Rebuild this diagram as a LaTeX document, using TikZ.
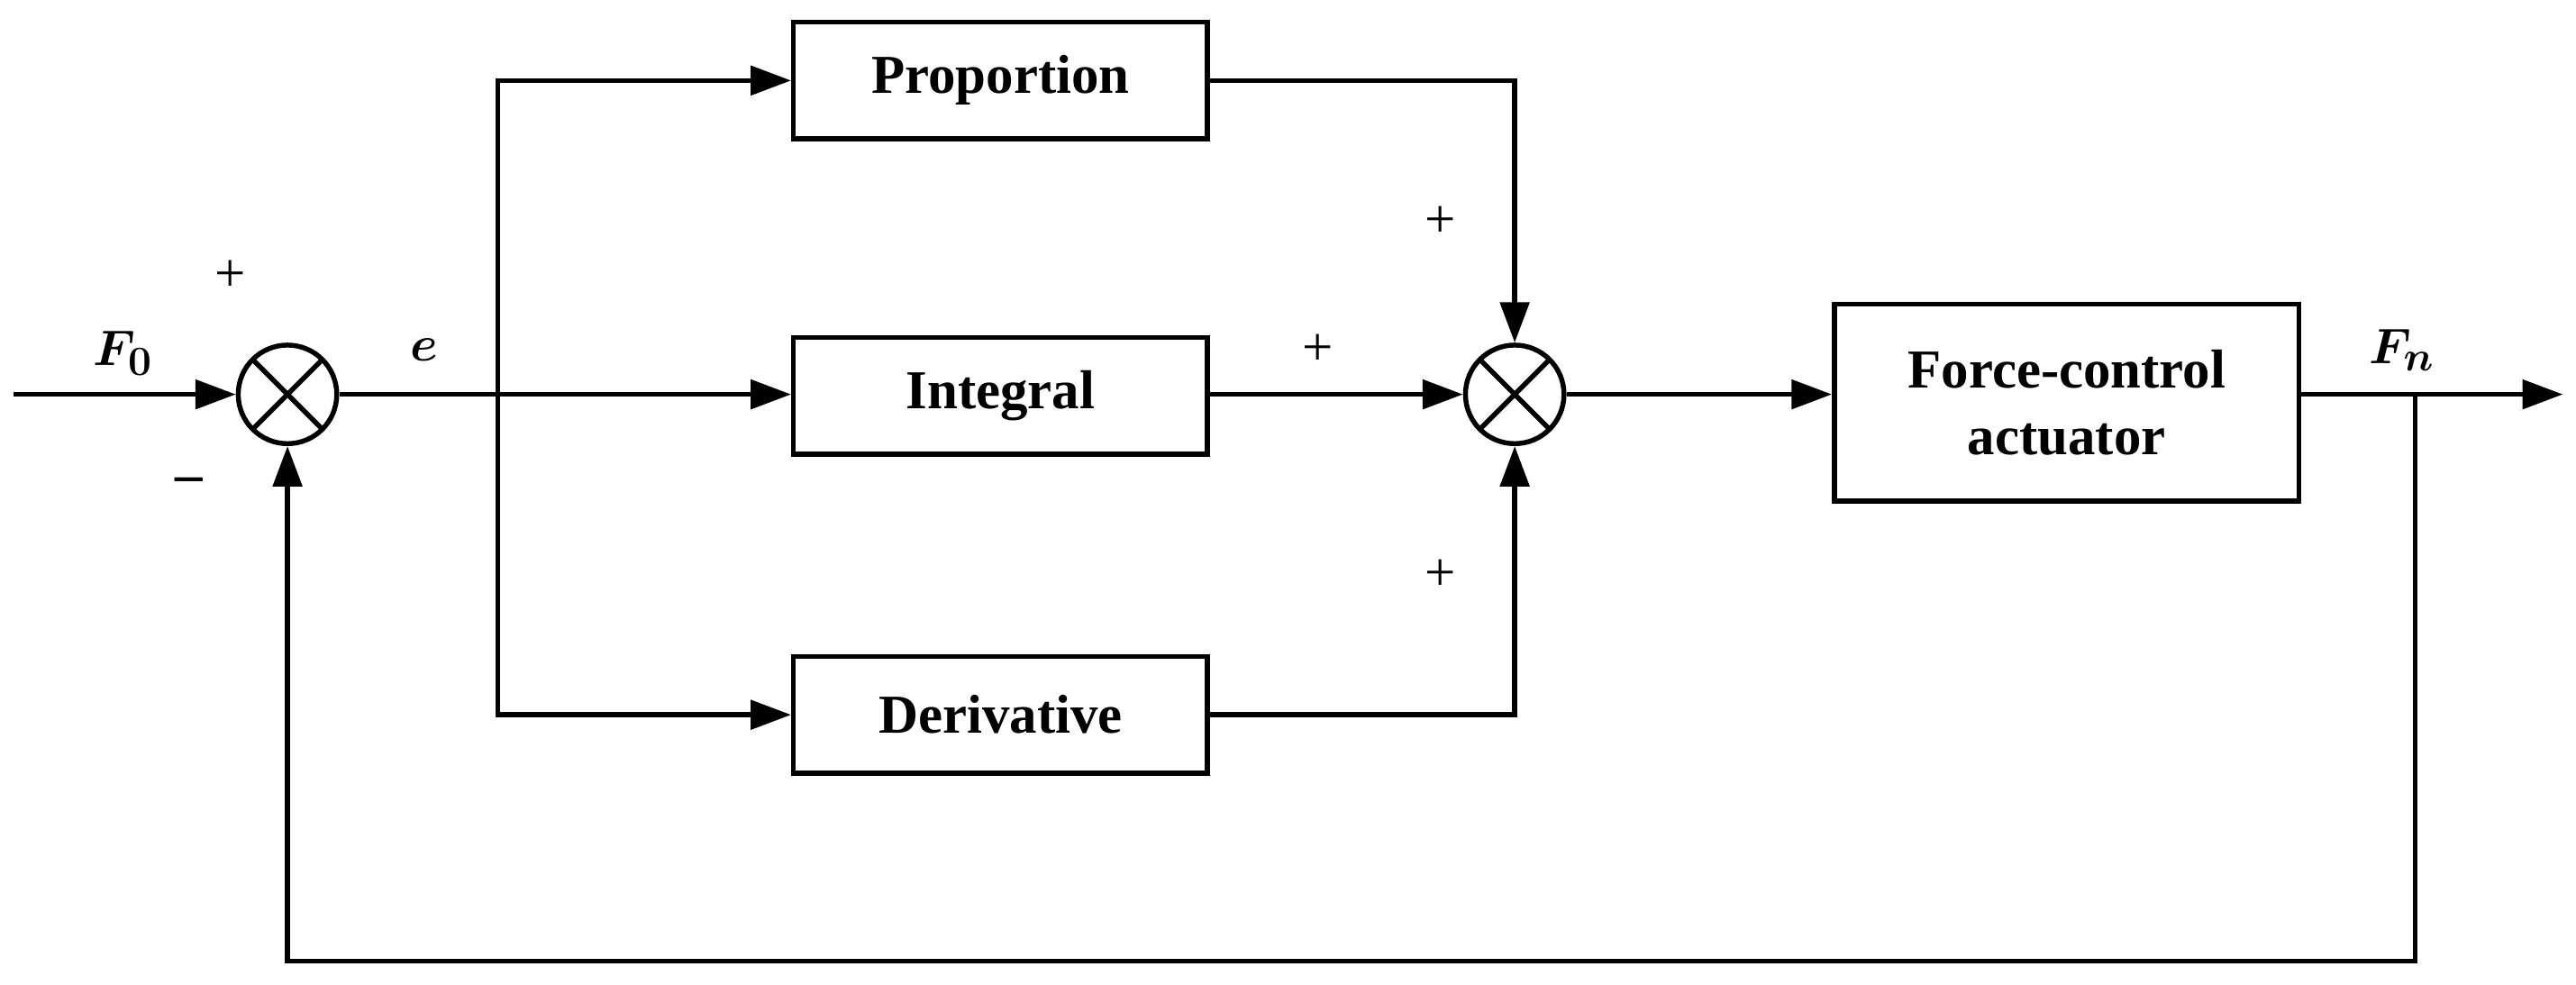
\documentclass[tikz,border=0pt]{standalone}
\usepackage{amsmath,bm}
\usepackage{fontspec}
\setmainfont{Liberation Serif}
\usetikzlibrary{arrows.meta}
\begin{document}
\begin{tikzpicture}[x=0.02cm,y=-0.02cm,line width=1.7pt,
  blk/.style={draw,minimum width=5.04cm,minimum height=1.42cm,font=\fontsize{19}{23}\selectfont\bfseries,align=center},
  sum/.style={draw,circle,minimum size=1.2cm,inner sep=0pt,path picture={\draw[line width=1.7pt] (path picture bounding box.north west)--(path picture bounding box.south east) (path picture bounding box.north east)--(path picture bounding box.south west);}},
  arr/.style={-{Triangle[length=14pt,width=10pt]}},
  lab/.style={font=\fontsize{19}{23}\selectfont}]
\useasboundingbox (0,0) rectangle (1568,599);
\node[sum] (s1) at (175,240) {};
\node[sum] (s2) at (922,240) {};
\node[blk] (p) at (609,49) {Proportion};
\node[blk] (i) at (609,241) {Integral};
\node[blk] (d) at (609,435) {Derivative};
\node[blk,minimum width=5.66cm,minimum height=2.4cm] (f) at (1258,245) {Force-control\\actuator};
\coordinate (in) at (8,240);
\coordinate (br) at (303,240);
\coordinate (out) at (1560,240);
\coordinate (tap) at (1470,240);
\draw[arr] (in) -- (s1);
\draw (s1) -- (br);
\draw[arr] (br) -- (i.west|-br);
\draw[arr] (br) |- (p.west);
\draw[arr] (br) |- (d.west);
\draw[arr] (p.east) -| (s2.north);
\draw[arr] (i.east|-s2) -- (s2);
\draw[arr] (d.east) -| (s2.south);
\draw[arr] (s2) -- (f.west|-s2);
\draw[arr] (f.east|-s2) -- (out);
\draw[arr] (tap) -- (1470,585) -| (s1.south);
\node[lab] at (75,215) {$\bm{F_0}$};
\node[lab] at (140,168) {+};
\node[lab] at (115,295) {\textbf{--}};
\node[lab] at (258,213) {$\bm{e}$};
\node[lab] at (877,135) {+};
\node[lab] at (802,213) {+};
\node[lab] at (877,350) {+};
\node[lab] at (1462,213) {$\bm{F_n}$};
\end{tikzpicture}
\end{document}
